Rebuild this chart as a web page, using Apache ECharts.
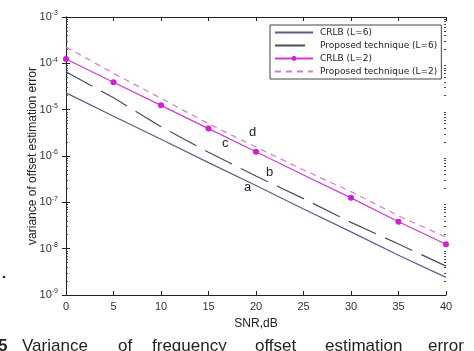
<!DOCTYPE html>
<html>
<head>
<meta charset="utf-8">
<script src="https://cdn.jsdelivr.net/npm/echarts@6/dist/echarts.min.js"></script>
<style>
  html, body { margin: 0; padding: 0; background: #fff; }
  #main { width: 474px; height: 351px; }
</style>
</head>
<body>
<div id="main"></div>
<script>
// SNR values (dB)
var snr = [0, 5, 10, 15, 20, 25, 30, 35, 40];

// variance of offset estimation error
var crlbL6 = [2.3e-5, 7.2e-6, 2.3e-6, 7.2e-7, 2.3e-7, 7.2e-8, 2.3e-8, 7.2e-9, 2.4e-9];
var propL6 = [6.6e-5, 1.8e-5, 4.3e-6, 1.2e-6, 3.7e-7, 1.2e-7, 3.7e-8, 1.26e-8, 4.2e-9];
var crlbL2 = [1.24e-4, 3.9e-5, 1.24e-5, 3.9e-6, 1.24e-6, 3.9e-7, 1.25e-7, 3.8e-8, 1.25e-8];
var propL2 = [2.25e-4, 6.1e-5, 1.76e-5, 4.97e-6, 1.56e-6, 5.0e-7, 1.7e-7, 5.1e-8, 1.78e-8];

// decades shown and minor tick multipliers of the log axis
var decades = [-9, -8, -7, -6, -5, -4];
var minorMult = [2, 3, 4, 5, 6, 7, 8, 9];

var names = ['CRLB (L=6)', 'Proposed technique (L=6)', 'CRLB (L=2)', 'Proposed technique (L=2)'];
var curveLabels = ['a', 'b', 'c', 'd'];

function pairs(ys) {
  return snr.map(function (x, i) { return [x, ys[i]]; });
}

var minorVals = [];
decades.forEach(function (e) {
  minorMult.forEach(function (m) { minorVals.push(m * Math.pow(10, e)); });
});

var myChart = echarts.init(document.getElementById('main'));

var axisCol = '#222';

function minorAxis(pos) {
  return {
    type: 'log', logBase: 10, position: pos,
    min: 1e-9, max: 1e-3,
    axisLine: { show: false },
    axisTick: { show: true, inside: true, length: 2, customValues: minorVals, lineStyle: { color: '#444' } },
    axisLabel: { show: false },
    splitLine: { show: false }
  };
}

var option = {
  animation: false,
  backgroundColor: '#fff',
  textStyle: { fontFamily: 'Liberation Sans, Arial, sans-serif' },
  grid: { left: 66, right: 28, top: 17, bottom: 56 },
  legend: {
    orient: 'vertical',
    left: 270,
    top: 25,
    width: 170,
    padding: [3, 4, 3, 4],
    itemGap: 4,
    itemWidth: 38,
    itemHeight: 6,
    borderColor: '#444',
    borderWidth: 1,
    backgroundColor: '#fff',
    textStyle: { fontFamily: 'DejaVu Sans', fontSize: 9, color: '#222', padding: [0, 0, 0, 2] },
    data: [
      { name: names[0], itemStyle: { opacity: 0 } },
      { name: names[1], itemStyle: { opacity: 0 } },
      { name: names[2] },
      { name: names[3], itemStyle: { opacity: 0 } }
    ]
  },
  xAxis: [{
    type: 'value',
    min: 0, max: 40, interval: 5,
    name: 'SNR,dB',
    nameLocation: 'middle',
    nameGap: 23,
    nameTextStyle: { fontSize: 12, color: '#222' },
    axisLine: { lineStyle: { color: axisCol, width: 1 } },
    axisTick: { inside: true, length: 4, lineStyle: { color: axisCol } },
    axisLabel: { fontSize: 11, color: '#333', margin: 6 },
    splitLine: { show: false }
  }, {
    type: 'value', position: 'top',
    min: 0, max: 40, interval: 5,
    axisLine: { lineStyle: { color: axisCol, width: 1 } },
    axisTick: { inside: true, length: 4, lineStyle: { color: axisCol } },
    axisLabel: { show: false },
    splitLine: { show: false }
  }],
  yAxis: [{
    type: 'log', logBase: 10,
    min: 1e-9, max: 1e-3,
    splitNumber: 6,
    name: 'variance of offset estimation error',
    nameLocation: 'middle',
    nameGap: 27,
    nameMoveOverlap: false,
    nameTextStyle: { fontSize: 12, color: '#222' },
    axisLine: { show: true, lineStyle: { color: axisCol, width: 1 } },
    axisTick: { inside: true, length: 4, lineStyle: { color: axisCol } },
    axisLabel: {
      margin: 8,
      formatter: function (v) {
        var e = Math.round(Math.log10(v));
        return '{b|10}{s|' + e + '}';
      },
      rich: {
        b: { fontSize: 11, color: '#333' },
        s: { fontSize: 7, color: '#333', verticalAlign: 'top', padding: [0, 0, 7, 0] }
      }
    },
    splitLine: { show: false }
  }, {
    type: 'log', logBase: 10, position: 'right',
    min: 1e-9, max: 1e-3,
    splitNumber: 6,
    axisLine: { show: true, lineStyle: { color: axisCol, width: 1 } },
    axisTick: { inside: true, length: 4, lineStyle: { color: axisCol } },
    axisLabel: { show: false },
    splitLine: { show: false }
  }, minorAxis('left'), minorAxis('right')],
  series: [{
    name: names[0], type: 'line', data: pairs(crlbL6),
    symbol: 'none',
    lineStyle: { color: '#5b5b8e', width: 1.2 },
    itemStyle: { color: '#5b5b8e' }
  }, {
    name: names[1], type: 'line', data: pairs(propL6),
    symbol: 'none',
    lineStyle: { color: '#4a4a5c', width: 1.2, type: [30, 10] },
    itemStyle: { color: '#4a4a5c' }
  }, {
    name: names[2], type: 'line',
    data: pairs(crlbL2).map(function (p, i) {
      return snr[i] === 25 ? { value: p, symbolSize: 0 } : p;
    }),
    symbol: 'circle', symbolSize: 6,
    lineStyle: { color: '#d33ad3', width: 1.2 },
    itemStyle: { color: '#d41cd4' }
  }, {
    name: names[3], type: 'line', data: pairs(propL2),
    symbol: 'none',
    lineStyle: { color: '#d478d4', width: 1.2, type: [6, 5] },
    itemStyle: { color: '#d478d4' }
  }],
  graphic: [
    { type: 'text', left: 244, top: 181, style: { text: curveLabels[0], font: '13px Liberation Sans', fill: '#222' } },
    { type: 'text', left: 266, top: 166, style: { text: curveLabels[1], font: '13px Liberation Sans', fill: '#222' } },
    { type: 'text', left: 222, top: 137, style: { text: curveLabels[2], font: '13px Liberation Sans', fill: '#222' } },
    { type: 'text', left: 249, top: 126, style: { text: curveLabels[3], font: '13px Liberation Sans', fill: '#222' } },
    { type: 'circle', shape: { cx: 4, cy: 277, r: 1.3 }, style: { fill: '#222' } },
    { type: 'text', left: -2, top: 338, style: { text: '5', font: 'bold 17px Liberation Sans', fill: '#222' } },
    { type: 'text', left: 22, top: 338, style: { text: 'Variance', font: '17px Liberation Sans', fill: '#222' } },
    { type: 'text', left: 118, top: 338, style: { text: 'of', font: '17px Liberation Sans', fill: '#222' } },
    { type: 'text', left: 152, top: 338, style: { text: 'frequency', font: '17px Liberation Sans', fill: '#222' } },
    { type: 'text', left: 255, top: 338, style: { text: 'offset', font: '17px Liberation Sans', fill: '#222' } },
    { type: 'text', left: 325, top: 338, style: { text: 'estimation', font: '17px Liberation Sans', fill: '#222' } },
    { type: 'text', left: 428, top: 338, style: { text: 'error', font: '17px Liberation Sans', fill: '#222' } }
  ]
};

myChart.setOption(option);
</script>
</body>
</html>
